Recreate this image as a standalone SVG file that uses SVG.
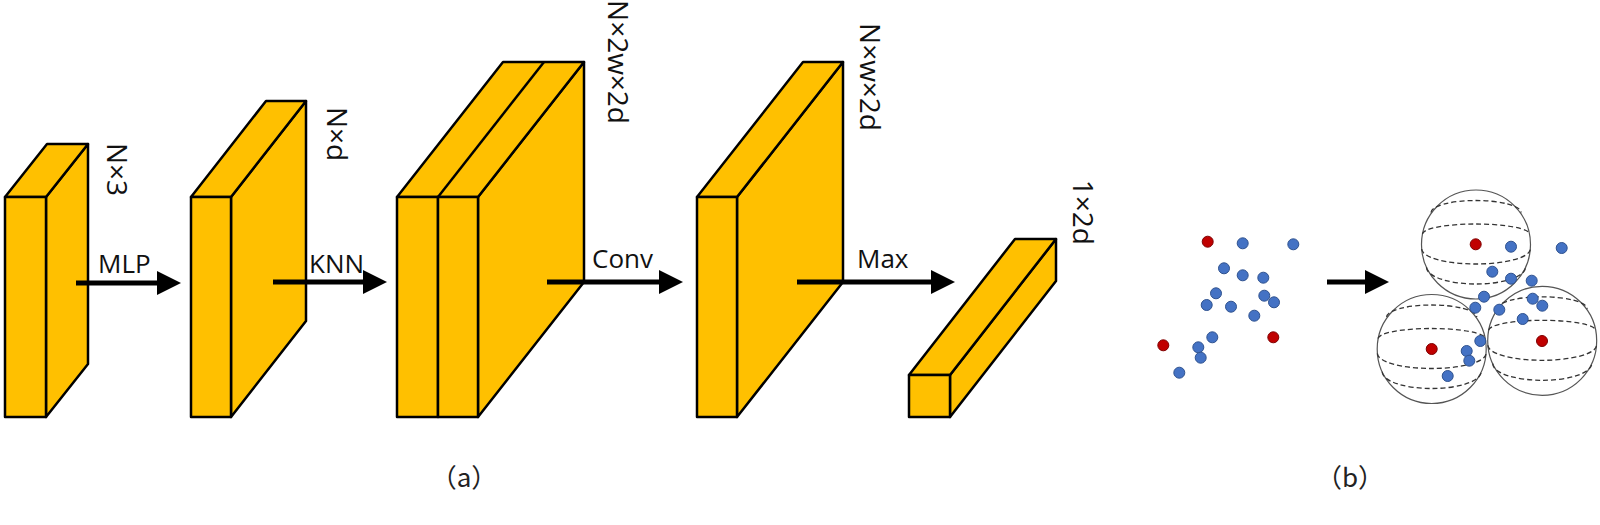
<svg xmlns="http://www.w3.org/2000/svg" xmlns:xlink="http://www.w3.org/1999/xlink" width="1600" height="525" viewBox="0 0 1600 525">
<style>
.blk{fill:#FFC000;stroke:#000;stroke-width:2.5;stroke-linejoin:round}
.lbl{font-family:"Open Sans","Noto Sans",sans-serif;font-size:26px;fill:#111}
.rl{font-family:"Open Sans","Noto Sans",sans-serif;font-size:28px;fill:#111}
.cap{font-family:"Noto Sans CJK SC","Noto Sans",sans-serif;font-size:26px;fill:#222}
.arr{stroke:#000;stroke-width:5;fill:none}
.sph{fill:none;stroke:#555;stroke-width:1.2}
.dsh{fill:none;stroke:#333;stroke-width:1.3;stroke-dasharray:5 3}
.bd{fill:#4472C4;stroke:#2F528F;stroke-width:1}
.rd{fill:#C00000;stroke:#7F0000;stroke-width:1}
</style>
<defs>
<marker id="ah" markerUnits="userSpaceOnUse" markerWidth="24" markerHeight="24" viewBox="0 0 22 22" refX="0" refY="11" orient="auto">
<path d="M0,0 L22,11 L0,22 z" fill="#000"/>
</marker>
<g id="sphere">
<circle class="sph" cx="0" cy="0" r="54.5"/>
<path class="dsh" d="M-45,-32 A45,12 0 0 1 45,-32"/>
<path class="dsh" d="M-53.5,-10.5 A53.5,10 0 0 1 53.5,-10.5"/>
<path class="dsh" d="M-54.3,4.5 A54.3,15 0 0 0 54.3,4.5"/>
<path class="dsh" d="M-49.5,22.8 A49.5,16.7 0 0 0 49.5,22.8"/>
</g>
</defs>
<rect width="1600" height="525" fill="#fff"/>

<g id="block1">
<polygon class="blk" points="46,197 88,144 88,364 46,417"/>
<polygon class="blk" points="5,197 47,144 88,144 46,197"/>
<rect class="blk" x="5" y="197" width="41" height="220"/>
<text class="rl" transform="translate(107,143) rotate(90)">N×3</text>
</g>
<g id="block2">
<polygon class="blk" points="231,197 306,101 306,321 231,417"/>
<polygon class="blk" points="191,197 266,101 306,101 231,197"/>
<rect class="blk" x="191" y="197" width="40" height="220"/>
<text class="rl" transform="translate(327,107) rotate(90)">N×d</text>
</g>
<g id="block3">
<polygon class="blk" points="478,197 584,62 584,282 478,417"/>
<polygon class="blk" points="397,197 503,62 584,62 478,197"/>
<line class="blk" x1="438" y1="197" x2="544" y2="62"/>
<rect class="blk" x="397" y="197" width="41" height="220"/>
<rect class="blk" x="438" y="197" width="40" height="220"/>
<text class="rl" text-anchor="end" transform="translate(608,124) rotate(90)">N×2w×2d</text>
</g>
<g id="block4">
<polygon class="blk" points="737,197 843,62 843,282 737,417"/>
<polygon class="blk" points="697,197 803,62 843,62 737,197"/>
<rect class="blk" x="697" y="197" width="40" height="220"/>
<text class="rl" text-anchor="end" transform="translate(860,131) rotate(90)">N×w×2d</text>
</g>
<g id="block5">
<polygon class="blk" points="950,375 1056,239 1056,281 950,417"/>
<polygon class="blk" points="909,375 1015,239 1056,239 950,375"/>
<rect class="blk" x="909" y="375" width="41" height="42"/>
<text class="rl" text-anchor="end" transform="translate(1073,245) rotate(90)">1×2d</text>
</g>

<g id="connectors">
<line class="arr" x1="76" y1="283" x2="157" y2="283" marker-end="url(#ah)"/>
<line class="arr" x1="273" y1="282" x2="363" y2="282" marker-end="url(#ah)"/>
<line class="arr" x1="547" y1="282" x2="659" y2="282" marker-end="url(#ah)"/>
<line class="arr" x1="797" y1="282" x2="931" y2="282" marker-end="url(#ah)"/>
<line class="arr" x1="1327" y1="282" x2="1365" y2="282" marker-end="url(#ah)"/>
<text class="lbl" x="98" y="273">MLP</text>
<text class="lbl" x="309" y="273">KNN</text>
<text class="lbl" x="592" y="268">Conv</text>
<text class="lbl" x="857" y="268">Max</text>
</g>

<g id="points-left">
<circle class="rd" cx="1207.7" cy="241.7" r="5.5"/>
<circle class="bd" cx="1242.7" cy="243.3" r="5.5"/>
<circle class="bd" cx="1293.3" cy="244.3" r="5.5"/>
<circle class="bd" cx="1224" cy="268.3" r="5.5"/>
<circle class="bd" cx="1242.7" cy="275.3" r="5.5"/>
<circle class="bd" cx="1263.3" cy="277.7" r="5.5"/>
<circle class="bd" cx="1216" cy="293.3" r="5.5"/>
<circle class="bd" cx="1264.3" cy="295.7" r="5.5"/>
<circle class="bd" cx="1274" cy="302.3" r="5.5"/>
<circle class="bd" cx="1206.7" cy="305" r="5.5"/>
<circle class="bd" cx="1231" cy="306.7" r="5.5"/>
<circle class="bd" cx="1254.3" cy="315.7" r="5.5"/>
<circle class="bd" cx="1212.3" cy="337.3" r="5.5"/>
<circle class="rd" cx="1273.3" cy="337.3" r="5.5"/>
<circle class="rd" cx="1163.3" cy="345.3" r="5.5"/>
<circle class="bd" cx="1198.3" cy="347.3" r="5.5"/>
<circle class="bd" cx="1200.7" cy="357.7" r="5.5"/>
<circle class="bd" cx="1179.3" cy="372.7" r="5.5"/>
</g>

<g id="spheres">
<use xlink:href="#sphere" href="#sphere" transform="translate(1476,244.5)"/>
<use xlink:href="#sphere" href="#sphere" transform="translate(1431.7,349)"/>
<use xlink:href="#sphere" href="#sphere" transform="translate(1542.2,340.8)"/>
</g>

<g id="points-right">
<circle class="rd" cx="1475.7" cy="244.3" r="5.5"/>
<circle class="bd" cx="1511" cy="246.7" r="5.5"/>
<circle class="bd" cx="1561.7" cy="248" r="5.5"/>
<circle class="bd" cx="1492.3" cy="271.7" r="5.5"/>
<circle class="bd" cx="1511" cy="278.7" r="5.5"/>
<circle class="bd" cx="1531.7" cy="280.7" r="5.5"/>
<circle class="bd" cx="1484" cy="296.7" r="5.5"/>
<circle class="bd" cx="1532.7" cy="298.7" r="5.5"/>
<circle class="bd" cx="1542.3" cy="305.7" r="5.5"/>
<circle class="bd" cx="1475.3" cy="307.7" r="5.5"/>
<circle class="bd" cx="1499.3" cy="309.7" r="5.5"/>
<circle class="bd" cx="1522.7" cy="319" r="5.5"/>
<circle class="rd" cx="1542" cy="341" r="5.5"/>
<circle class="bd" cx="1480.3" cy="341" r="5.5"/>
<circle class="rd" cx="1431.7" cy="349" r="5.5"/>
<circle class="bd" cx="1466.7" cy="351" r="5.5"/>
<circle class="bd" cx="1469.3" cy="360.7" r="5.5"/>
<circle class="bd" cx="1447.7" cy="376" r="5.5"/>
</g>

<text class="cap" x="464" y="487" text-anchor="middle">（a）</text>
<text class="cap" x="1350" y="487" text-anchor="middle">（b）</text>
</svg>
